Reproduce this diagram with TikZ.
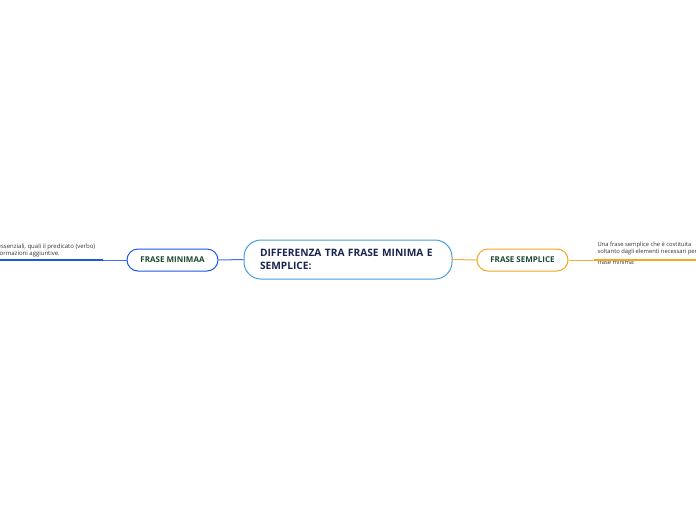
\documentclass[tikz,border=0pt]{standalone}
\usepackage{fontspec}
\setmainfont{Open Sans}
\definecolor{centerborder}{HTML}{4A9CDE}
\definecolor{centertext}{HTML}{1B2550}
\definecolor{leftblue}{HTML}{1E56E8}
\definecolor{leftthin}{HTML}{3F72EA}
\definecolor{orangeb}{HTML}{F5A623}
\definecolor{orangethin}{HTML}{F6AE38}
\definecolor{greentext}{HTML}{1D4A33}
\definecolor{smalltext}{HTML}{333333}
\tikzset{
  topicbox/.style={draw, line width=1pt, rounded corners=11pt, fill=white, minimum width=91pt, minimum height=22pt, inner sep=0pt, font=\fontsize{8}{10}\selectfont\bfseries, text=greentext},
  centerbox/.style={draw=centerborder, line width=1pt, rounded corners=17pt, fill=white, minimum width=208pt, minimum height=39pt, inner sep=0pt, text width=176pt, align=left, font=\fontsize{10.2}{13}\selectfont\bfseries, text=centertext},
  notetext/.style={inner sep=0pt, font=\fontsize{5.8}{7.7}\selectfont, text=smalltext, align=left, anchor=north west},
  thinlink/.style={line width=1pt},
  thicklink/.style={line width=2pt}
}
\begin{document}
\begin{tikzpicture}[x=1pt,y=-1pt]
\useasboundingbox (0,0) rectangle (696,520);
\clip (0,0) rectangle (696,520);
\node[centerbox] (center) at (348,259.5) {DIFFERENZA TRA FRASE MINIMA E SEMPLICE:};
\node[topicbox, draw=leftblue] (minima) at (172.5,260) {FRASE MINIMAA};
\node[topicbox, draw=orangeb] (semplice) at (522.5,260) {FRASE SEMPLICE};
\coordinate (lstart) at (103,260);
\coordinate (lend) at (0,260);
\coordinate (rstart) at (594,260);
\coordinate (rend) at (696,260);
\node[notetext, font=\fontsize{6}{7.9}\selectfont] (lnote) at (-2.5,243.3) {essenziali, quali il predicato (verbo)\\formazioni aggiuntive.};
\node[notetext] (rnote) at (597.5,241.6) {Una frase semplice che è costituita\\soltanto dagli elementi necessari per\\[3.2pt]frase minima:};
\draw[thinlink, leftthin] (center.west) -- (minima.east);
\draw[thinlink, leftthin] (minima.west) -- (lstart);
\draw[thicklink, leftblue] (lstart) -- (lend);
\draw[thinlink, orangethin] (center.east) -- (semplice.west);
\draw[thinlink, orangethin] (semplice.east) -- (rstart);
\draw[thicklink, orangeb] (rstart) -- (rend);
\end{tikzpicture}
\end{document}
